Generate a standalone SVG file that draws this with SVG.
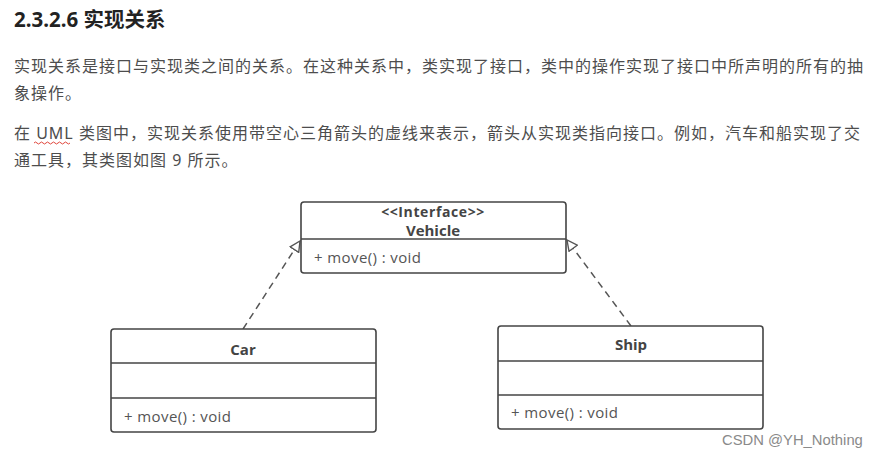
<svg xmlns="http://www.w3.org/2000/svg" width="879" height="460" viewBox="0 0 879 460">
<style>
.t{font-family:"Noto Sans","Noto Sans CJK SC",sans-serif;}
.h{font-size:20.5px;font-weight:bold;fill:#222;}
.p{font-size:16px;letter-spacing:1px;fill:#4d4d4d;}
.box{fill:#fff;stroke:#444;stroke-width:1.6;}
.div{stroke:#444;stroke-width:1.6;}
.name{font-family:"Open Sans","Noto Sans",sans-serif;font-size:15px;font-weight:bold;fill:#444;text-anchor:middle;}
.st{font-size:14px;letter-spacing:0.6px;}
.op{font-family:"Open Sans","Noto Sans",sans-serif;font-size:15px;letter-spacing:0.4px;fill:#555;}
.conn{fill:none;stroke:#555;stroke-width:1.5;stroke-dasharray:7 5;}
.wm{font-family:"Liberation Sans",sans-serif;font-size:14.8px;fill:#8a8a8a;}
</style>
<defs>
<marker id="tri" viewBox="0 0 14 14" refX="13" refY="7" markerWidth="12" markerHeight="12" markerUnits="userSpaceOnUse" orient="auto">
<path d="M1,1 L13,7 L1,13 Z" fill="#fff" stroke="#555" stroke-width="1.6"/>
</marker>
</defs>
<text class="t h" x="14" y="27">2.3.2.6 实现关系</text>
<text class="t p" x="14" y="72">实现关系是接口与实现类之间的关系。在这种关系中，类实现了接口，类中的操作实现了接口中所声明的所有的抽</text>
<text class="t p" x="14" y="99">象操作。</text>
<text class="t p" x="14" y="139">在 UML 类图中，实现关系使用带空心三角箭头的虚线来表示，箭头从实现类指向接口。例如，汽车和船实现了交</text>
<path d="M34,143 q1.5,-2 3,0 t3,0 t3,0 t3,0 t3,0 t3,0 t3,0 t3,0 t3,0 t3,0 t3,0 t3,0" fill="none" stroke="#e0463c" stroke-width="1"/>
<text class="t p" x="14" y="166">通工具，其类图如图 9 所示。</text>
<g id="connectors">
<path class="conn" d="M243,329 L300,241" marker-end="url(#tri)"/>
<path class="conn" d="M631,326 L567,240" marker-end="url(#tri)"/>
</g>
<g id="vehicle">
<rect class="box" x="301" y="202" width="265" height="71" rx="3"/>
<line class="div" x1="301" y1="239" x2="566" y2="239"/>
<text class="name st" x="433" y="217">&lt;&lt;Interface&gt;&gt;</text>
<text class="name" x="433" y="236">Vehicle</text>
<text class="op" x="314" y="263">+ move() : void</text>
</g>
<g id="car">
<rect class="box" x="111" y="329" width="265" height="103" rx="3"/>
<line class="div" x1="111" y1="363" x2="376" y2="363"/>
<line class="div" x1="111" y1="398" x2="376" y2="398"/>
<text class="name" x="243" y="355">Car</text>
<text class="op" x="124" y="422">+ move() : void</text>
</g>
<g id="ship">
<rect class="box" x="498" y="326" width="265" height="103" rx="3"/>
<line class="div" x1="498" y1="361" x2="763" y2="361"/>
<line class="div" x1="498" y1="395" x2="763" y2="395"/>
<text class="name" x="631" y="350">Ship</text>
<text class="op" x="511" y="418">+ move() : void</text>
</g>
<text class="wm" x="722" y="445">CSDN @YH_Nothing</text>
</svg>
